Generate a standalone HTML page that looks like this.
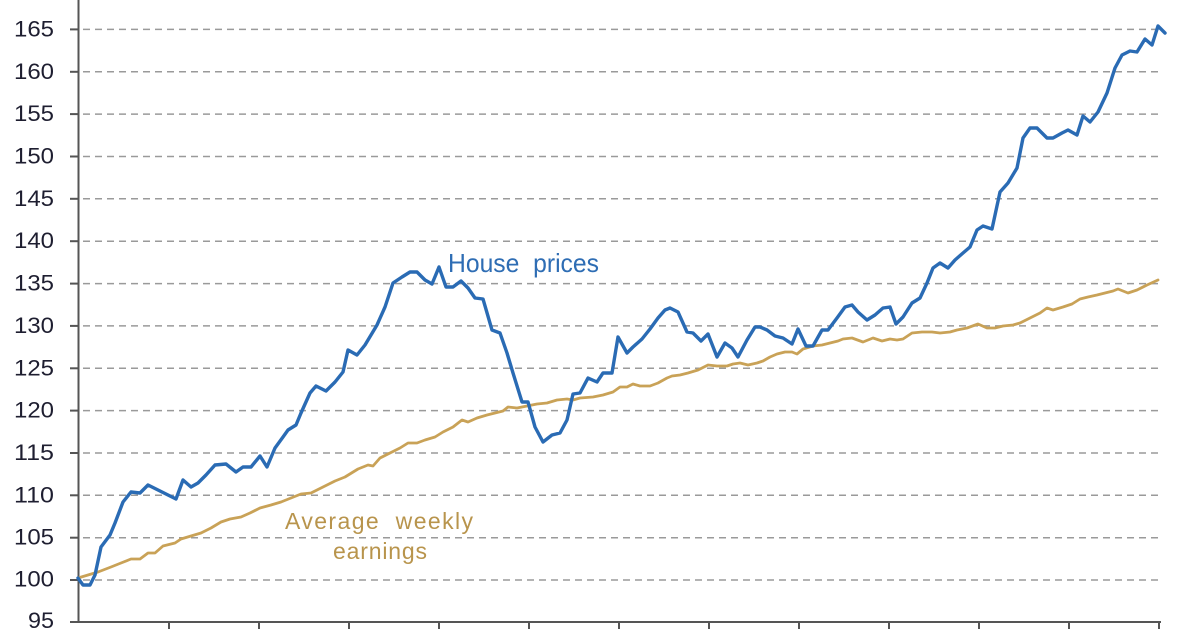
<!DOCTYPE html>
<html>
<head>
<meta charset="utf-8">
<style>
  html, body { margin:0; padding:0; background:#ffffff; }
  body { width:1200px; height:629px; overflow:hidden; }
  svg { display:block; }
  text { font-family: "Liberation Sans", Arial, sans-serif; }
</style>
</head>
<body>
<svg width="1200" height="629" viewBox="0 0 1200 629" xmlns="http://www.w3.org/2000/svg">
  <rect x="0" y="0" width="1200" height="629" fill="#ffffff"/>

  <!-- gridlines -->
  <g stroke="#9a9a9a" stroke-width="1.5" stroke-dasharray="7 5" fill="none">
    <line x1="83" y1="29.4" x2="1160" y2="29.4"/>
    <line x1="83" y1="71.8" x2="1160" y2="71.8"/>
    <line x1="83" y1="114.1" x2="1160" y2="114.1"/>
    <line x1="83" y1="156.5" x2="1160" y2="156.5"/>
    <line x1="83" y1="198.8" x2="1160" y2="198.8"/>
    <line x1="83" y1="241.2" x2="1160" y2="241.2"/>
    <line x1="83" y1="283.6" x2="1160" y2="283.6"/>
    <line x1="83" y1="325.9" x2="1160" y2="325.9"/>
    <line x1="83" y1="368.3" x2="1160" y2="368.3"/>
    <line x1="83" y1="410.6" x2="1160" y2="410.6"/>
    <line x1="83" y1="453.0" x2="1160" y2="453.0"/>
    <line x1="83" y1="495.3" x2="1160" y2="495.3"/>
    <line x1="83" y1="537.7" x2="1160" y2="537.7"/>
    <line x1="83" y1="580.0" x2="1160" y2="580.0"/>
  </g>

  <!-- axes -->
  <g stroke="#555555" stroke-width="2" fill="none">
    <line x1="78.5" y1="0" x2="78.5" y2="623"/>
    <line x1="78" y1="622" x2="1161" y2="622"/>
    <!-- y ticks -->
    <line x1="70" y1="29.4" x2="78" y2="29.4"/>
    <line x1="70" y1="71.8" x2="78" y2="71.8"/>
    <line x1="70" y1="114.1" x2="78" y2="114.1"/>
    <line x1="70" y1="156.5" x2="78" y2="156.5"/>
    <line x1="70" y1="198.8" x2="78" y2="198.8"/>
    <line x1="70" y1="241.2" x2="78" y2="241.2"/>
    <line x1="70" y1="283.6" x2="78" y2="283.6"/>
    <line x1="70" y1="325.9" x2="78" y2="325.9"/>
    <line x1="70" y1="368.3" x2="78" y2="368.3"/>
    <line x1="70" y1="410.6" x2="78" y2="410.6"/>
    <line x1="70" y1="453.0" x2="78" y2="453.0"/>
    <line x1="70" y1="495.3" x2="78" y2="495.3"/>
    <line x1="70" y1="537.7" x2="78" y2="537.7"/>
    <line x1="70" y1="580.0" x2="78" y2="580.0"/>
    <line x1="70" y1="622" x2="78" y2="622"/>
    <!-- x ticks -->
    <line x1="169" y1="622" x2="169" y2="629"/>
    <line x1="259" y1="622" x2="259" y2="629"/>
    <line x1="349" y1="622" x2="349" y2="629"/>
    <line x1="439" y1="622" x2="439" y2="629"/>
    <line x1="529" y1="622" x2="529" y2="629"/>
    <line x1="619" y1="622" x2="619" y2="629"/>
    <line x1="709" y1="622" x2="709" y2="629"/>
    <line x1="799" y1="622" x2="799" y2="629"/>
    <line x1="889" y1="622" x2="889" y2="629"/>
    <line x1="979" y1="622" x2="979" y2="629"/>
    <line x1="1069" y1="622" x2="1069" y2="629"/>
    <line x1="1159" y1="622" x2="1159" y2="629"/>
  </g>

  <!-- y labels -->
  <g font-size="22" fill="#1e1e30" text-anchor="end">
    <text x="54" y="36.4" textLength="40" lengthAdjust="spacingAndGlyphs">165</text>
    <text x="54" y="78.8" textLength="40" lengthAdjust="spacingAndGlyphs">160</text>
    <text x="54" y="121.1" textLength="40" lengthAdjust="spacingAndGlyphs">155</text>
    <text x="54" y="163.5" textLength="40" lengthAdjust="spacingAndGlyphs">150</text>
    <text x="54" y="205.8" textLength="40" lengthAdjust="spacingAndGlyphs">145</text>
    <text x="54" y="248.2" textLength="40" lengthAdjust="spacingAndGlyphs">140</text>
    <text x="54" y="290.6" textLength="40" lengthAdjust="spacingAndGlyphs">135</text>
    <text x="54" y="332.9" textLength="40" lengthAdjust="spacingAndGlyphs">130</text>
    <text x="54" y="375.3" textLength="40" lengthAdjust="spacingAndGlyphs">125</text>
    <text x="54" y="417.6" textLength="40" lengthAdjust="spacingAndGlyphs">120</text>
    <text x="54" y="460.0" textLength="40" lengthAdjust="spacingAndGlyphs">115</text>
    <text x="54" y="502.3" textLength="40" lengthAdjust="spacingAndGlyphs">110</text>
    <text x="54" y="544.7" textLength="40" lengthAdjust="spacingAndGlyphs">105</text>
    <text x="54" y="586.5" textLength="40" lengthAdjust="spacingAndGlyphs">100</text>
    <text x="54" y="628" textLength="26" lengthAdjust="spacingAndGlyphs">95</text>
  </g>

  <!-- Average weekly earnings -->
  <polyline fill="none" stroke="#c9a257" stroke-width="2.8" stroke-linejoin="round" stroke-linecap="round"
    points="78,578 88,575 98,572 111,567 121,563 131,559 140,559 148,553 155,553 163,546 175,543 181,539 191,536 201,533 211,528 221,522 230,519 241,517 250,513 260,508 271,505 281,502 291,498 301,494 311,493 323,487 335,481 345,477 358,469 368,465 373,466 380,458 390,453 400,448 408,443 417,443 425,440 435,437 443,432 453,427 462,420 468,422 477,418 487,415 495,413 503,411 508,407 517,408 527,406 537,404 547,403 557,400 567,399 573,400 580,398 593,397 603,395 613,392 620,387 627,387 633,384 640,386 650,386 658,383 667,378 672,376 680,375 688,373 698,370 708,365 717,366 727,366 733,364 740,363 748,365 757,363 763,361 770,357 777,354 785,352 792,352 797,354 803,349 813,346 822,345 830,343 838,341 843,339 852,338 863,342 873,338 882,341 890,339 897,340 903,339 912,333 922,332 932,332 940,333 950,332 957,330 967,328 978,324 987,328 995,328 1003,326 1013,325 1020,323 1030,318 1040,313 1047,308 1053,310 1063,307 1072,304 1080,299 1088,297 1097,295 1105,293 1113,291 1118,289 1128,293 1137,290 1147,285 1158,280"/>

  <!-- House prices -->
  <polyline fill="none" stroke="#2a6bb4" stroke-width="3.4" stroke-linejoin="round" stroke-linecap="round"
    points="78,578 83,585 90,585 95,575 101,547 110,535 115,523 123,502 131,492 140,493 148,485 158,490 168,495 176,499 183,480 191,487 198,483 206,475 215,465 226,464 236,472 243,467 251,467 260,456 267,467 275,448 283,437 288,430 296,425 301,413 310,393 316,386 326,391 335,382 343,372 348,350 357,355 365,345 377,325 385,307 393,283 402,277 410,272 417,272 425,280 432,284 439,267 446,287 453,287 461,281 468,288 475,298 483,299 492,330 500,333 507,353 513,373 522,402 528,402 535,427 543,442 552,435 560,433 567,420 573,394 580,393 588,378 597,382 603,373 612,373 618,337 627,353 633,347 642,339 650,329 658,318 665,310 670,308 678,312 687,332 693,333 701,341 708,334 717,357 725,343 732,348 738,357 747,340 755,327 760,327 767,330 775,336 783,338 792,344 798,329 806,346 813,346 822,330 828,330 837,318 845,307 852,305 858,312 867,320 875,315 883,308 890,307 896,324 903,317 912,303 920,298 927,283 933,268 940,263 948,268 955,260 963,253 970,247 977,230 983,226 992,229 1000,192 1008,183 1017,168 1023,138 1030,128 1037,128 1047,138 1053,138 1062,133 1068,130 1077,135 1083,116 1090,122 1098,112 1107,93 1115,68 1122,55 1130,51 1137,52 1145,39 1152,45 1158,26 1165,33"/>

  <!-- series labels -->
  <text x="448" y="272" font-size="26" fill="#2e6db4" textLength="151" lengthAdjust="spacingAndGlyphs" xml:space="preserve">House  prices</text>
  <text x="285" y="529" font-size="23" fill="#b8944c" textLength="188" lengthAdjust="spacing" xml:space="preserve">Average  weekly</text>
  <text x="333" y="559" font-size="23" fill="#b8944c" textLength="94" lengthAdjust="spacing">earnings</text>
</svg>
</body>
</html>
